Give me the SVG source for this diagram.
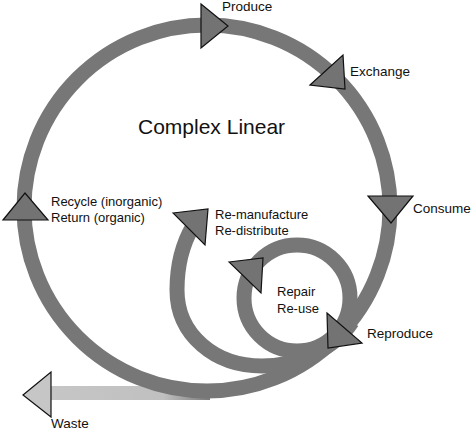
<svg xmlns="http://www.w3.org/2000/svg" width="474" height="432" viewBox="0 0 474 432">
<style>
.band{fill:none;stroke:#777;stroke-width:15}
.head{fill:#737373;stroke:#111;stroke-width:1.2;stroke-linejoin:miter}
.lbl{font-family:"Liberation Sans",Arial,sans-serif;font-size:13px;fill:#111}
.lbl2{font-family:"Liberation Sans",Arial,sans-serif;font-size:13.5px;fill:#111}
</style>
<defs>
<linearGradient id="wg" x1="51" y1="0" x2="212" y2="0" gradientUnits="userSpaceOnUse">
<stop offset="0" stop-color="#c6c6c6"/>
<stop offset="0.7" stop-color="#c0c0c0"/>
<stop offset="1" stop-color="#777"/>
</linearGradient>
</defs>
<rect width="474" height="432" fill="#fff"/>
<g id="connectors">
<rect x="50" y="386" width="160" height="14" fill="url(#wg)"/>
<circle class="band" cx="207" cy="208" r="183"/>
<circle class="band" cx="297" cy="298" r="53"/>
<path class="band" d="M352,322 C335,348 300,366 262,366 C215,366 177,335 177,290 C177,262 183,243 193,226"/>
</g>
<g id="title"><text x="138" y="134" font-family="Liberation Sans,Arial,sans-serif" font-size="21" fill="#111">Complex Linear</text></g>
<g id="produce"><polygon class="head" points="201,4 228,26 201,48"/><text class="lbl2" x="222" y="11">Produce</text></g>
<g id="exchange"><polygon class="head" points="310,85 343,55 345,89"/><text class="lbl2" x="350" y="76">Exchange</text></g>
<g id="consume"><polygon class="head" points="368,196 413,196 391,223"/><text class="lbl2" x="413" y="213">Consume</text></g>
<g id="reproduce"><polygon class="head" points="327,313 362,343 328,348"/><text class="lbl2" x="367" y="338">Reproduce</text></g>
<g id="recycle"><polygon class="head" points="3,220 25,193 48,220"/><text class="lbl" x="51" y="206">Recycle (inorganic)</text><text class="lbl" x="51" y="222">Return (organic)</text></g>
<g id="remanufacture"><polygon class="head" points="173,213 208,209 205,245"/><text class="lbl" x="215" y="219">Re-manufacture</text><text class="lbl" x="215" y="235">Re-distribute</text></g>
<g id="repair"><polygon class="head" points="229,262 263,258 261,293"/><text class="lbl" x="277" y="296">Repair</text><text class="lbl" x="277" y="313">Re-use</text></g>
<g id="waste"><polygon class="head" points="23,395 51,372 51,417" style="fill:#c6c6c6"/><text class="lbl2" x="51" y="428">Waste</text></g>
</svg>
